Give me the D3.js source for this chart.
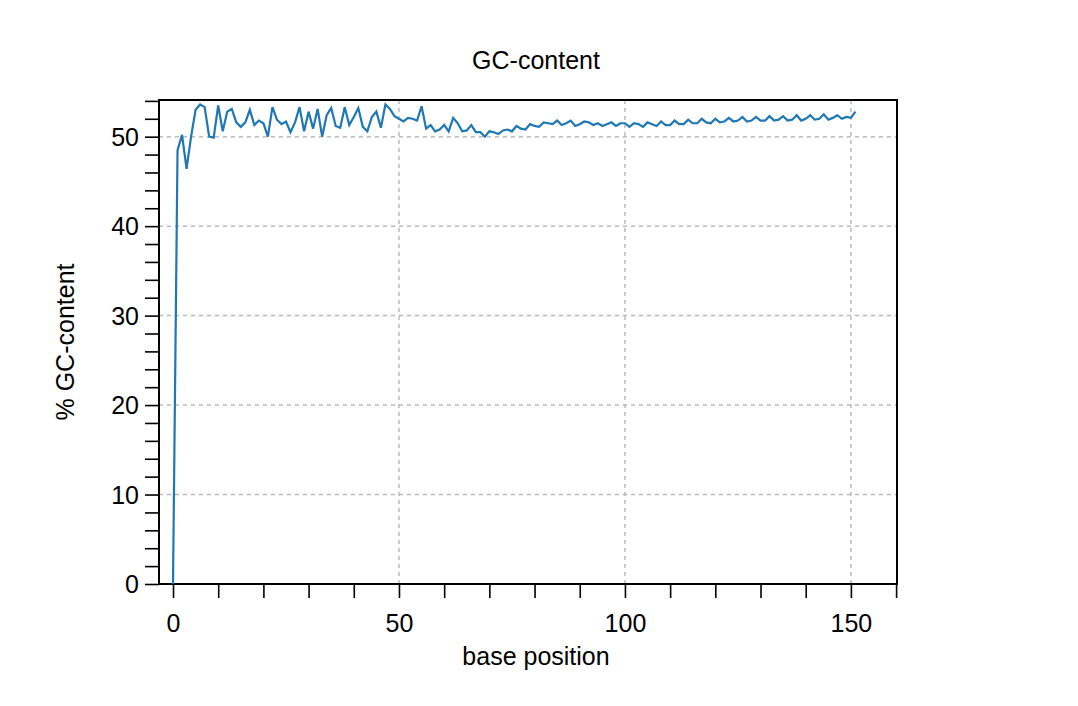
<!DOCTYPE html>
<html><head><meta charset="utf-8">
<script src="https://cdn.jsdelivr.net/npm/d3@7"></script>
<style>body{margin:0;background:#fff;font-family:"Liberation Sans",Arial,sans-serif}</style>
</head><body>
<script>
// GC-content per base position
var gcValues = [0,48.5,50.2,46.4,50.0,53.0,53.6,53.3,50.0,49.9,53.5,50.6,52.8,53.1,51.6,51.1,51.6,53.0,51.3,51.8,
51.5,50.0,53.3,51.9,51.4,51.7,50.5,51.6,53.3,50.6,52.8,50.9,53.1,50.0,52.4,53.2,51.2,51.0,53.3,51.3,
52.2,53.2,51.1,50.6,52.2,52.8,51.0,53.6,53.1,52.3,52.0,51.7,52.1,52.0,51.8,53.4,50.9,51.3,50.6,50.8,
51.3,50.6,52.1,51.5,50.6,50.7,51.3,50.5,50.5,50.0,50.6,50.5,50.3,50.7,50.8,50.6,51.2,50.9,50.8,51.4,
51.2,51.1,51.6,51.5,51.4,51.8,51.3,51.5,51.8,51.2,51.4,51.7,51.6,51.3,51.5,51.2,51.4,51.6,51.2,51.5,
51.5,51.1,51.5,51.4,51.1,51.6,51.4,51.2,51.7,51.3,51.3,51.8,51.4,51.4,51.9,51.5,51.5,52.0,51.6,51.5,
52.0,51.6,51.7,52.1,51.7,51.8,52.2,51.7,51.8,52.2,51.8,51.8,52.3,51.8,51.9,52.3,51.8,51.9,52.4,51.8,
52.0,52.4,51.9,52.0,52.5,51.9,52.1,52.4,52.0,52.2,52.1,52.8];
var xMajor = [0,50,100,150];
var yMajor = [0,10,20,30,40,50];

var svg = d3.select('body').append('svg').attr('width',1078).attr('height',706);
var margin = {left:159, top:100, right:181, bottom:122};
var w = 1078 - margin.left - margin.right, h = 706 - margin.top - margin.bottom;
var g = svg.append('g').attr('transform',`translate(${margin.left},${margin.top})`);

var x = d3.scaleLinear().domain([-3.1,160.2]).range([0,w]);
var y = d3.scaleLinear().domain([0,54.1]).range([h,0]);

// grid
g.selectAll('.gy').data(yMajor.slice(1)).enter().append('line')
  .attr('x1',0).attr('x2',w).attr('y1',d=>y(d)).attr('y2',d=>y(d))
  .attr('stroke','#bbb').attr('stroke-width',1.5).attr('stroke-dasharray','4,4');
g.selectAll('.gx').data(xMajor.slice(1)).enter().append('line')
  .attr('y1',0).attr('y2',h).attr('x1',d=>x(d)).attr('x2',d=>x(d))
  .attr('stroke','#bbb').attr('stroke-width',1.5).attr('stroke-dasharray','4,4');

// axes
var xAxis = d3.axisBottom(x).tickValues(d3.range(0,161,10)).tickSize(14)
  .tickFormat(d => xMajor.includes(d) ? d : '');
var yAxis = d3.axisLeft(y).tickValues(d3.range(0,55,2)).tickSize(14)
  .tickFormat(d => yMajor.includes(d) ? d : '');
var xa = g.append('g').attr('transform',`translate(0,${h})`).call(xAxis);
var ya = g.append('g').call(yAxis);
[xa,ya].forEach(a=>{
  a.select('.domain').remove();
  a.selectAll('line').attr('stroke','#000').attr('stroke-width',1.6);
  a.selectAll('text').attr('font-size',25).attr('fill','#000').attr('font-family','"Liberation Sans",Arial,sans-serif');
});
xa.selectAll('text').attr('dy','1.25em');
ya.selectAll('text').attr('dx','-3px').attr('dy','0.35em');

g.append('rect').attr('width',w).attr('height',h).attr('fill','none').attr('stroke','#000').attr('stroke-width',2);

// line
g.append('path').datum(gcValues)
  .attr('fill','none').attr('stroke','#1f77b4').attr('stroke-width',2.2)
  .attr('d', d3.line().x((d,i)=>x(i)).y(d=>y(d)));

svg.append('text').attr('x',536).attr('y',69).attr('text-anchor','middle').attr('font-size',25).text('GC-content');
svg.append('text').attr('x',536).attr('y',665).attr('text-anchor','middle').attr('font-size',25).text('base position');
svg.append('text').attr('transform','translate(74,342) rotate(-90)').attr('text-anchor','middle').attr('font-size',25).text('% GC-content');
</script>
</body></html>
